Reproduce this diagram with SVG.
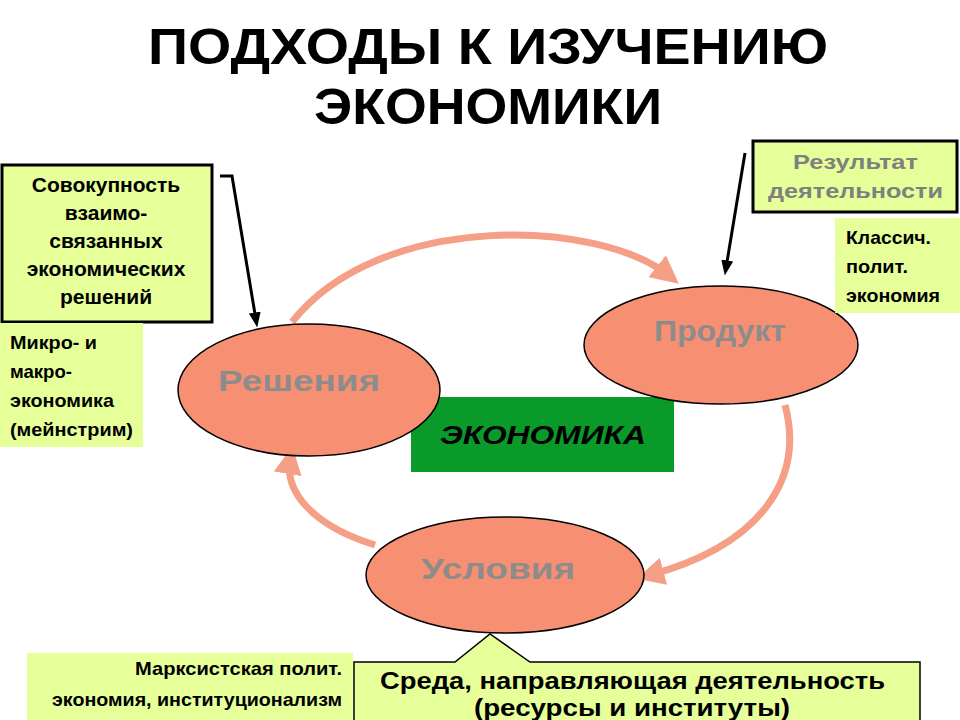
<svg xmlns="http://www.w3.org/2000/svg" width="960" height="720" viewBox="0 0 960 720">
<defs>
<style>
text{font-family:"Liberation Sans",Arial,sans-serif;font-weight:bold}
.lime{fill:#e6ff99}
.ell{fill:#f78f72;stroke:#000;stroke-width:1.5}
.et{fill:#8c8c8c;font-size:30px}
.arc{fill:none;stroke:#f59f86;stroke-width:7}
.blk{stroke:#000;stroke-width:3;fill:none}
</style>
<marker id="oa" viewBox="0 0 10 10" refX="5" refY="5" markerWidth="4" markerHeight="4" orient="auto"><path d="M0,0 L10,5 L0,10 z" fill="#f59f86"/></marker>
<marker id="ba" viewBox="0 0 10 10" refX="5" refY="5" markerWidth="5" markerHeight="6" orient="auto"><path d="M0,1 L10,5 L0,9 z" fill="#000"/></marker>
</defs>
<rect width="960" height="720" fill="#fff"/>
<text x="148" y="64" font-size="50" textLength="680" lengthAdjust="spacingAndGlyphs">ПОДХОДЫ  К  ИЗУЧЕНИЮ</text>
<text x="314" y="124" font-size="50" textLength="348" lengthAdjust="spacingAndGlyphs">ЭКОНОМИКИ</text>
<g id="connectors">
<path class="arc" d="M292,322 C380,210 600,220 668,275" marker-end="url(#oa)"/>
<path class="arc" d="M785,405 C805,480 760,545 650,575" marker-end="url(#oa)"/>
<path class="arc" d="M375,545 C310,525 285,490 290,460" marker-end="url(#oa)"/>
<path class="blk" d="M220,176 L232,176 L256,320" marker-end="url(#ba)"/>
<path class="blk" d="M745,153 L726,268" marker-end="url(#ba)"/>
</g>
<g id="economy"><rect x="411" y="397" width="263" height="75" fill="#0a9a2a"/><text x="440" y="444" font-size="26" font-style="italic" textLength="206" lengthAdjust="spacingAndGlyphs">ЭКОНОМИКА</text></g>
<g id="reshenia"><ellipse class="ell" cx="309" cy="390" rx="131" ry="66"/><text class="et" x="218" y="391" textLength="162" lengthAdjust="spacingAndGlyphs">Решения</text></g>
<g id="produkt"><ellipse class="ell" cx="721" cy="345" rx="137" ry="59"/><text class="et" x="654" y="341" textLength="132" lengthAdjust="spacingAndGlyphs">Продукт</text></g>
<g id="uslovia"><ellipse class="ell" cx="505" cy="575" rx="139" ry="58"/><text class="et" x="421" y="579" textLength="154" lengthAdjust="spacingAndGlyphs">Условия</text></g>
<g id="sovokupnost"><rect x="2" y="165" width="210" height="157" class="lime" stroke="#000" stroke-width="3"/>
<text font-size="21" text-anchor="middle"><tspan x="106" y="192">Совокупность</tspan><tspan x="106" y="220">взаимо-</tspan><tspan x="106" y="248">связанных</tspan><tspan x="106" y="276">экономических</tspan><tspan x="106" y="304">решений</tspan></text></g>
<g id="mikro"><rect x="0" y="323" width="143" height="124" class="lime"/>
<text font-size="19"><tspan x="10" y="349" textLength="87" lengthAdjust="spacingAndGlyphs">Микро- и</tspan><tspan x="10" y="378" textLength="62" lengthAdjust="spacingAndGlyphs">макро-</tspan><tspan x="10" y="407" textLength="104" lengthAdjust="spacingAndGlyphs">экономика</tspan><tspan x="10" y="436" textLength="123" lengthAdjust="spacingAndGlyphs">(мейнстрим)</tspan></text></g>
<g id="rezultat"><rect x="753" y="141" width="204" height="71" class="lime" stroke="#000" stroke-width="3"/>
<text font-size="21" fill="#808080"><tspan x="793" y="169" textLength="125" lengthAdjust="spacingAndGlyphs">Результат</tspan><tspan x="768" y="198" textLength="175" lengthAdjust="spacingAndGlyphs">деятельности</tspan></text></g>
<g id="klassich"><rect x="835" y="218" width="125" height="95" class="lime"/>
<text font-size="19"><tspan x="846" y="244" textLength="85" lengthAdjust="spacingAndGlyphs">Классич.</tspan><tspan x="846" y="273" textLength="62" lengthAdjust="spacingAndGlyphs">полит.</tspan><tspan x="846" y="302" textLength="94" lengthAdjust="spacingAndGlyphs">экономия</tspan></text></g>
<g id="marks"><rect x="27" y="653" width="326" height="67" class="lime"/>
<text font-size="19"><tspan x="135" y="675" textLength="207" lengthAdjust="spacingAndGlyphs">Марксистская полит.</tspan><tspan x="52" y="706" textLength="290" lengthAdjust="spacingAndGlyphs">экономия, институционализм</tspan></text></g>
<g id="sreda"><path d="M354,662 L455,662 L490,634 L530,662 L920,662 L920,722 L354,722 z" class="lime" stroke="#000" stroke-width="1.5"/>
<text font-size="24"><tspan x="380" y="689" textLength="505" lengthAdjust="spacingAndGlyphs">Среда, направляющая деятельность</tspan><tspan x="474" y="716" textLength="316" lengthAdjust="spacingAndGlyphs">(ресурсы и институты)</tspan></text></g>
</svg>
